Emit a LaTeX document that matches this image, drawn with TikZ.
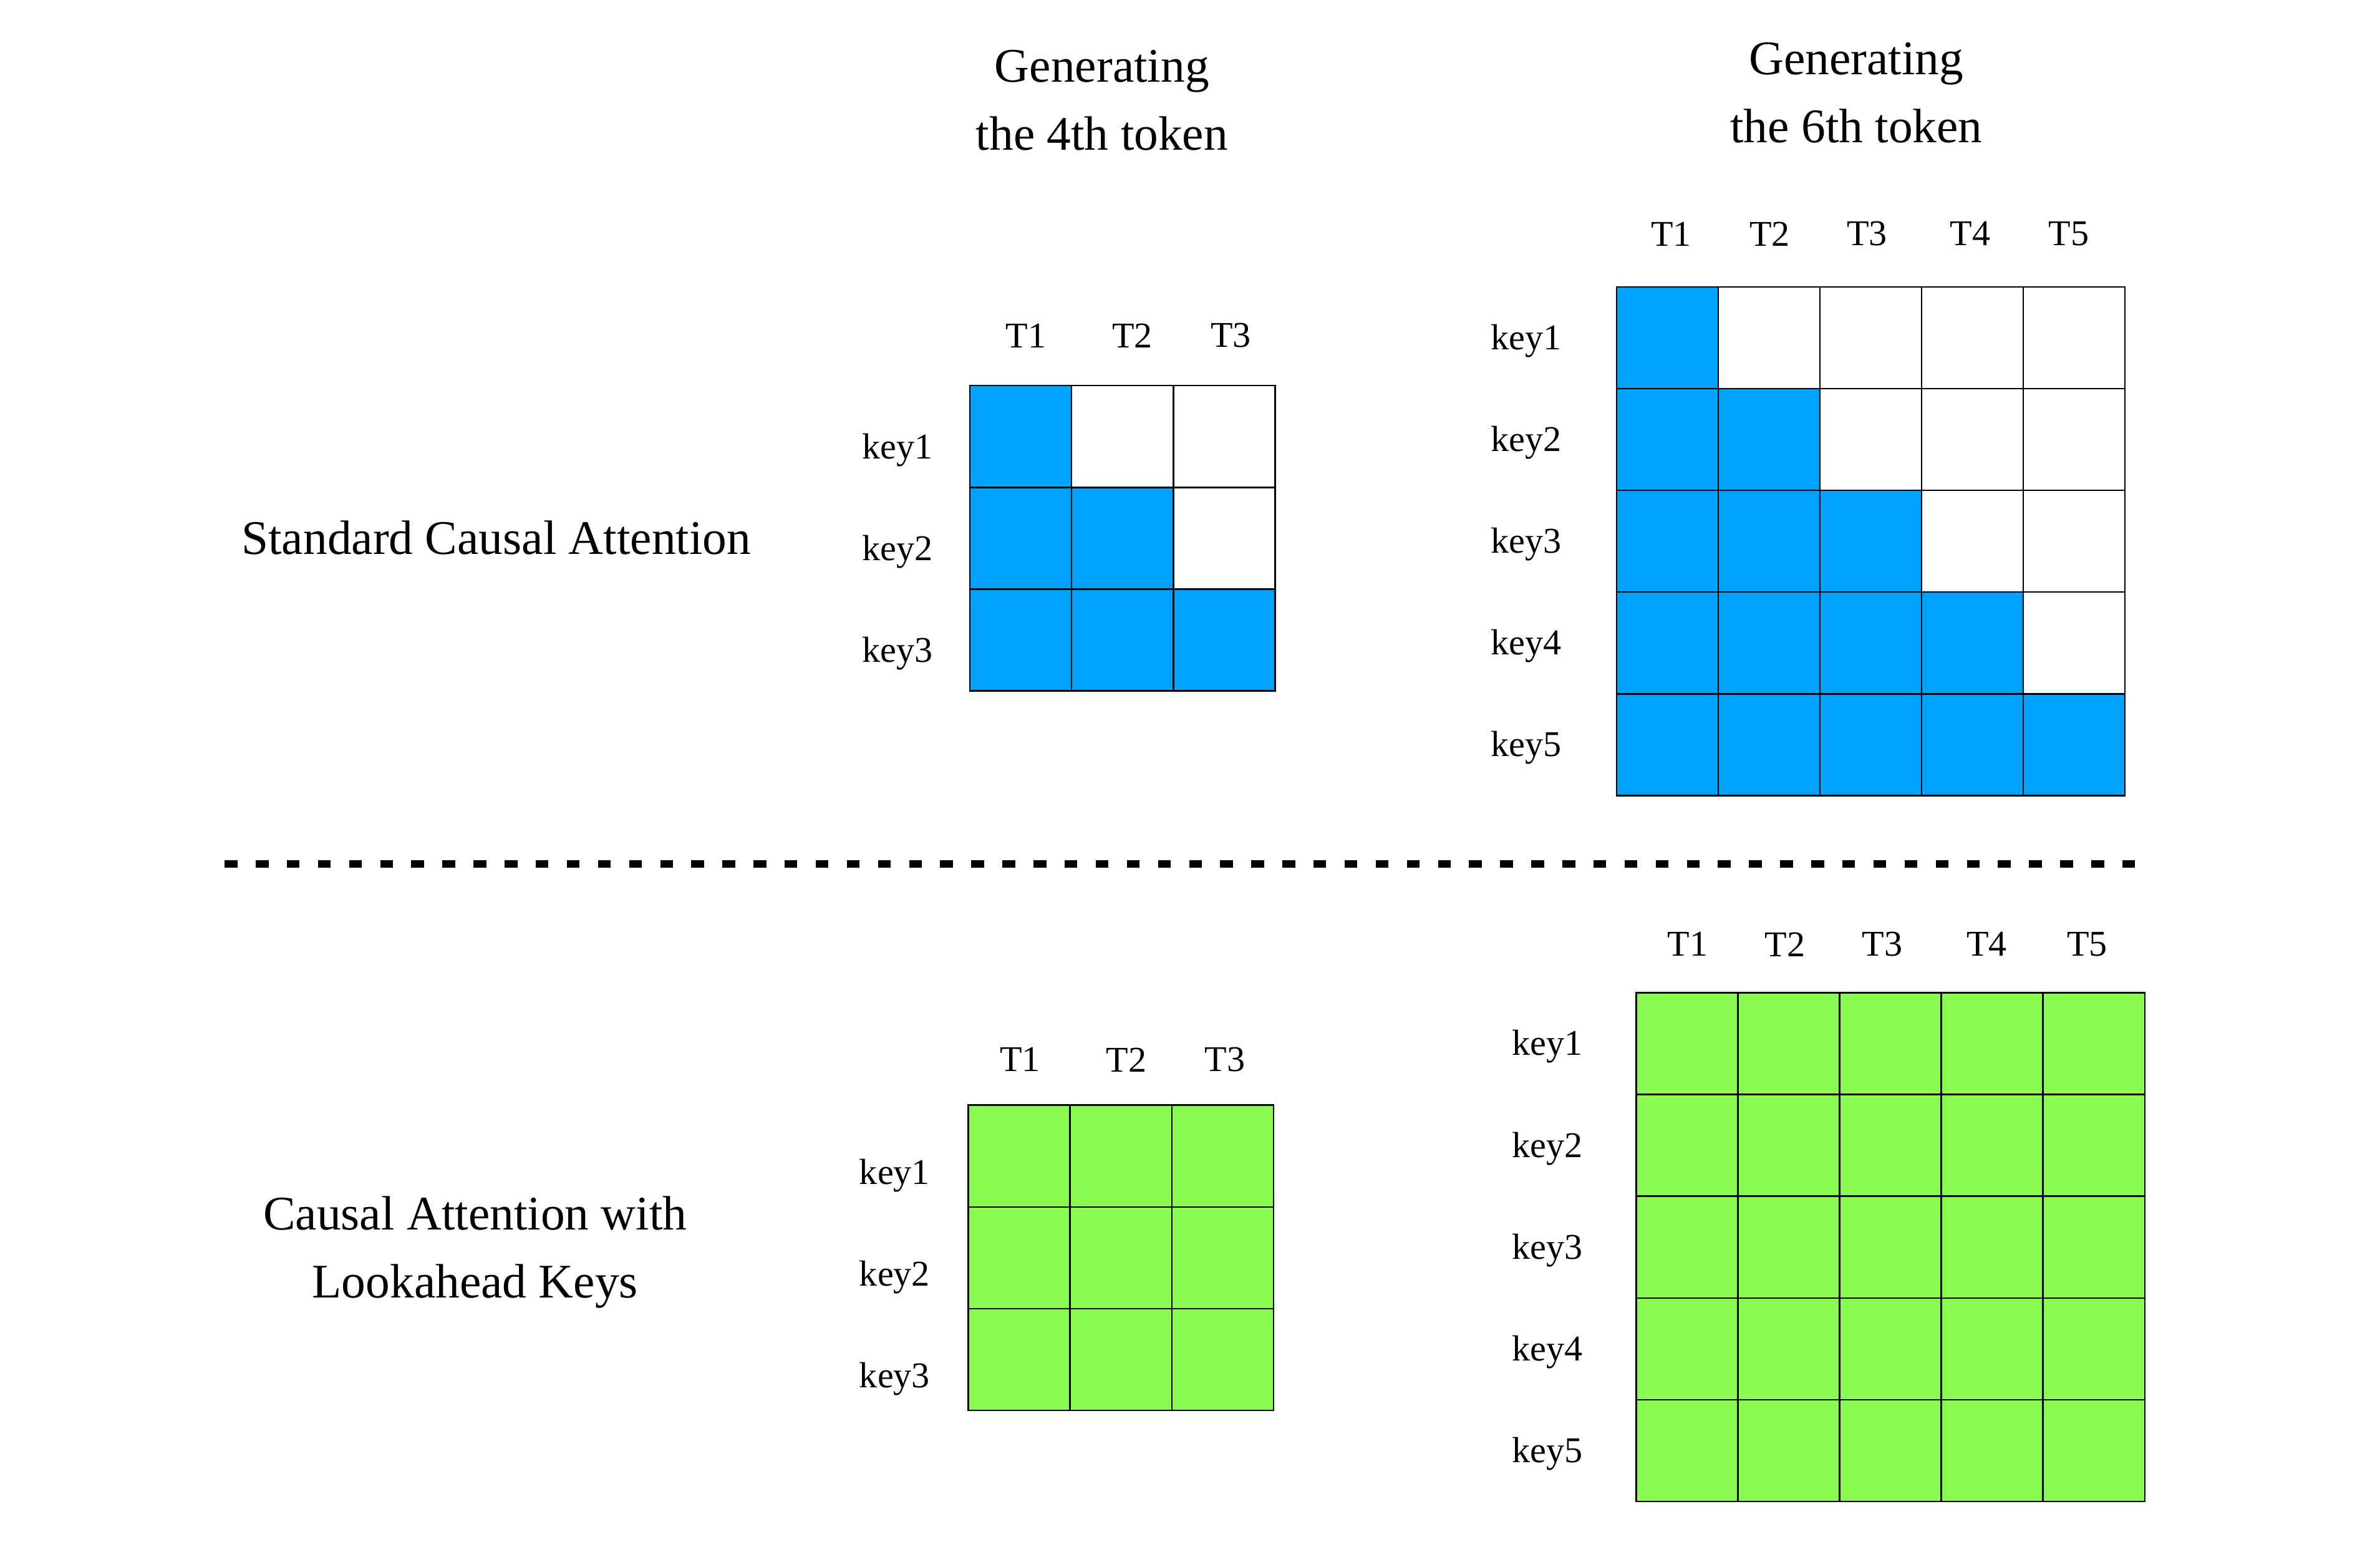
\documentclass[tikz,border=0pt]{standalone}
\usepackage{fontspec}
\setmainfont{Liberation Serif}
\usetikzlibrary{positioning}
\definecolor{causalblue}{HTML}{00A2FF}
\definecolor{lookgreen}{HTML}{89FA4F}

\begin{document}
\begin{tikzpicture}[x=0.02cm, y=-0.02cm,
					cellnode/.style={draw=black, line width=0.6pt, minimum size=1.34cm, inner sep=0pt, outer sep=0pt},
					toklabel/.style={font=\fontsize{13.6}{16}\selectfont, inner sep=0pt},
					keylabel/.style={font=\fontsize{13.6}{16}\selectfont, inner sep=0pt, anchor=east},
					titletext/.style={font=\fontsize{18.1}{25.5}\selectfont, align=center, inner sep=0pt},
					]
					\useasboundingbox (0,0) rectangle (1568,1019);
					
					%Titles
					\node[titletext]      (gen4)    at  (726,66)    {Generating\\the 4th token};
					\node[titletext]      (gen6)    at  (1223,61)   {Generating\\the 6th token};
					\node[titletext]      (std)     at  (327,354)   {Standard Causal Attention};
					\node[titletext]      (look)    at  (313,825)   {Causal Attention with\\Lookahead Keys};
					
					%Standard causal, 4th token
					\foreach \r in {1,2,3}
					\foreach \c in {1,2,3} {
						\ifnum\c>\r \def\cellcol{white}\else \def\cellcol{causalblue}\fi
						\node[cellnode, fill=\cellcol] (a-\r-\c) at ({639+67*\c-33.5},{254+67*\r-33.5}) {};
					}
					\foreach \c/\x in {1/676,2/746,3/811}
						\node[toklabel] (a-t\c) at (\x,221) {T\c};
					\foreach \r in {1,2,3}
						\node[keylabel, yshift=-0.18cm] (a-k\r) at ([xshift=-0.48cm]a-\r-1.west) {key\r};
					
					%Standard causal, 6th token
					\foreach \r in {1,...,5}
					\foreach \c in {1,...,5} {
						\ifnum\c>\r \def\cellcol{white}\else \def\cellcol{causalblue}\fi
						\node[cellnode, fill=\cellcol] (b-\r-\c) at ({1065+67*\c-33.5},{189+67*\r-33.5}) {};
					}
					\foreach \c/\x in {1/1101,2/1166,3/1230,4/1298,5/1363}
						\node[toklabel] (b-t\c) at (\x,154) {T\c};
					\foreach \r in {1,...,5}
						\node[keylabel, yshift=-0.04cm] (b-k\r) at ([xshift=-0.72cm]b-\r-1.west) {key\r};
					
					%Separator
					\coordinate (sepl) at (148,569);
					\coordinate (sepr) at (1413,569);
					\draw[line width=2.8pt, dash pattern=on 0.168cm off 0.242cm] (sepl) -- (sepr);
					
					%Lookahead, 4th token
					\foreach \r in {1,2,3}
					\foreach \c in {1,2,3}
						\node[cellnode, fill=lookgreen] (c-\r-\c) at ({638+67*\c-33.5},{728+67*\r-33.5}) {};
					\foreach \c/\x in {1/672,2/742,3/807}
						\node[toklabel] (c-t\c) at (\x,698) {T\c};
					\foreach \r in {1,2,3}
						\node[keylabel, yshift=-0.26cm] (c-k\r) at ([xshift=-0.5cm]c-\r-1.west) {key\r};
					
					%Lookahead, 6th token
					\foreach \r in {1,...,5}
					\foreach \c in {1,...,5}
						\node[cellnode, fill=lookgreen] (d-\r-\c) at ({1078+67*\c-33.5},{654+67*\r-33.5}) {};
					\foreach \c/\x in {1/1112,2/1176,3/1240,4/1309,5/1375}
						\node[toklabel] (d-t\c) at (\x,622) {T\c};
					\foreach \r in {1,...,5}
						\node[keylabel, yshift=-0.04cm] (d-k\r) at ([xshift=-0.7cm]d-\r-1.west) {key\r};
				\end{tikzpicture}
\end{document}
